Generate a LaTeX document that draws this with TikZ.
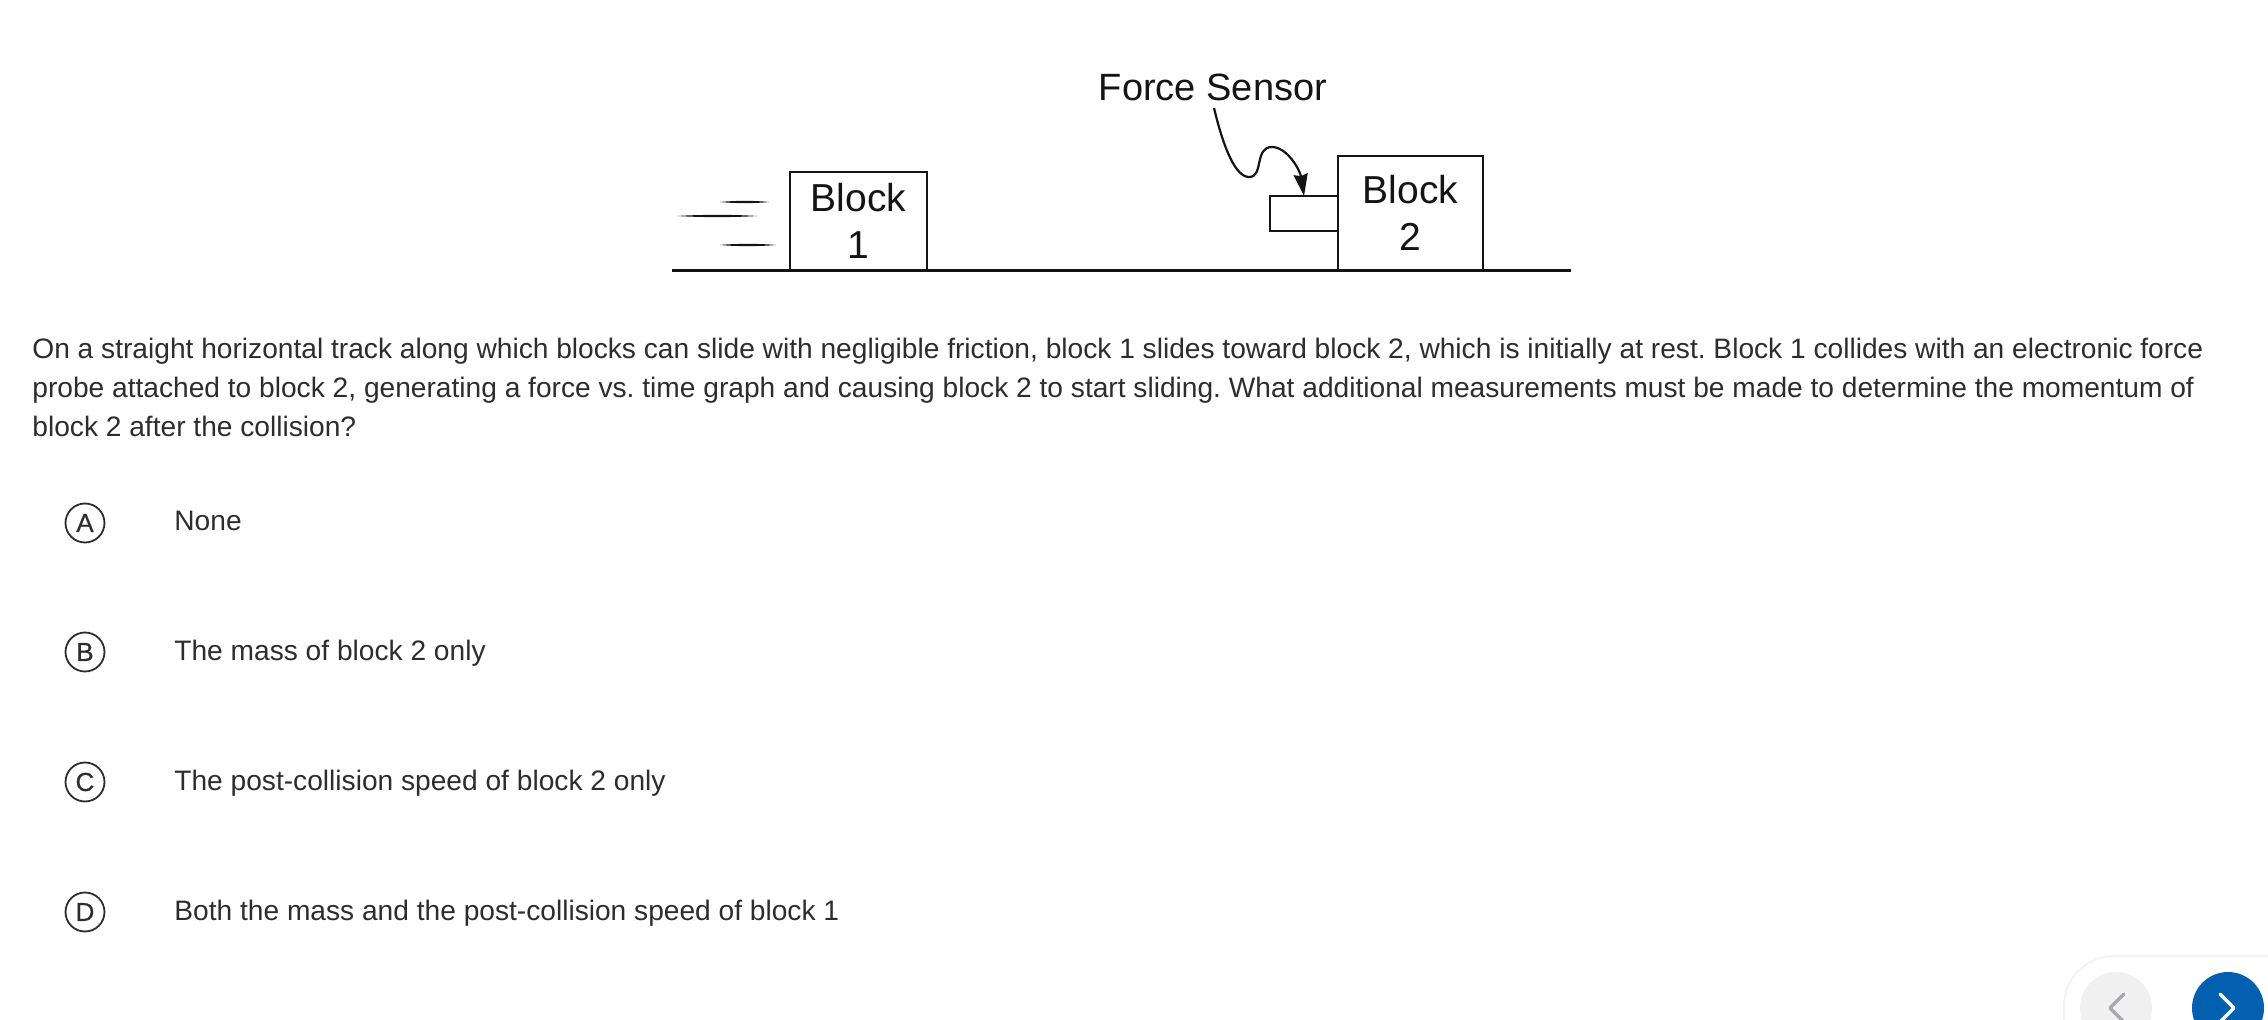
\documentclass[tikz,border=0pt]{standalone}
\usepackage{fontspec}
\setmainfont{Liberation Sans}
\newfontfamily\optfont[FakeBold=0.5]{Liberation Sans}
\usetikzlibrary{arrows.meta}
\definecolor{InkBlack}{RGB}{20, 20, 20}
\definecolor{BodyGrey}{RGB}{45, 45, 45}
\definecolor{PanelEdge}{RGB}{243, 243, 243}
\definecolor{ButtonGrey}{RGB}{240, 240, 240}
\definecolor{ChevronGrey}{RGB}{168, 168, 172}
\definecolor{ButtonBlue}{RGB}{3, 96, 176}
\tikzset{
    blockbox/.style={draw=InkBlack, line width=1.4pt, inner sep=0pt, outer sep=0pt, align=center,
        text depth=1pt, font=\fontsize{19.5}{23.5}\selectfont, text=InkBlack},
    bodyline/.style={anchor=base west, inner sep=0pt, text=BodyGrey, font=\fontsize{14.07}{16}\selectfont},
    optcircle/.style={draw=BodyGrey, circle, line width=0.9pt, minimum size=19.5pt, inner sep=0pt,
        text=BodyGrey, font=\optfont\fontsize{13}{15}\selectfont},
    chevron/.style={line width=1.7pt, line cap=round, line join=round}
}

\begin{document}
\frenchspacing
\begin{tikzpicture}[x=0.5pt, y=-0.5pt]
    \useasboundingbox (0,0) rectangle (2268,1020);
    \clip (0,0) rectangle (2268,1020);
    \fill[white] (0,0) rectangle (2268,1020);

    % Pista
    \draw[InkBlack, line width=1.5pt] (672,271) -- (1571,271);

    % Bloque 1
    \node[blockbox, minimum width=68.5pt, minimum height=49.5pt] (blockOne) at (858.5,221.5) {Block\\1};
    \fill[InkBlack] (720,202) .. controls (735,200.5) and (755,200.5) .. (769,202) .. controls (755,203.5) and (735,203.5) .. (720,202);
    \fill[InkBlack] (677,216) .. controls (700,214.5) and (735,214.5) .. (757,216) .. controls (735,217.5) and (700,217.5) .. (677,216);
    \fill[InkBlack] (720,245) .. controls (735,243.5) and (760,243.5) .. (776,245) .. controls (760,246.5) and (735,246.5) .. (720,245);

    % Bloque 2 y sensor
    \node[blockbox, minimum width=72.5pt, minimum height=57.5pt] (blockTwo) at (1410.5,213.5) {Block\\2};
    \node[blockbox, minimum width=34pt, minimum height=17.5pt] (sensorProbe) at (1304,213.5) {};
    \node[inner sep=0pt, text=InkBlack, font=\fontsize{19}{23}\selectfont] (sensorLabel) at (1213,87) {Force Sensor};
    \coordinate (sensorStart) at (1214,108);
    \draw[InkBlack, line width=1.1pt, -{Stealth[length=11pt, width=7pt, inset=1pt]}] (sensorStart)
        .. controls (1224,150) and (1236,177) .. (1249,177)
        .. controls (1264,177) and (1254,147) .. (1272,147)
        .. controls (1287,147) and (1300,170) .. (sensorProbe.north);

    % Enunciado
    \node[bodyline] (lineOne) at (32,359) {On a straight horizontal track along which blocks can slide with negligible friction, block 1 slides toward block 2, which is initially at rest. Block 1 collides with an electronic force};
    \node[bodyline] (lineTwo) at (32,398) {probe attached to block 2, generating a force vs. time graph and causing block 2 to start sliding. What additional measurements must be made to determine the momentum of};
    \node[bodyline] (lineThree) at (32,437) {block 2 after the collision?};

    % Opciones
    \node[optcircle] (optA) at (85,523) {A};
    \node[bodyline] (textA) at (174,531) {None};
    \node[optcircle] (optB) at (85,652) {B};
    \node[bodyline] (textB) at (174,661) {The mass of block 2 only};
    \node[optcircle] (optC) at (85,782) {C};
    \node[bodyline] (textC) at (174,790) {The post-collision speed of block 2 only};
    \node[optcircle] (optD) at (85,912) {D};
    \node[bodyline] (textD) at (174,920) {Both the mass and the post-collision speed of block 1};

    % Botones
    \draw[PanelEdge, fill=white, line width=1pt] (2064,1040) -- (2064,1006) arc (180:270:50) -- (2290,956) -- (2290,1040) -- cycle;
    \fill[ButtonGrey] (2116,1008) circle (36);
    \fill[ButtonBlue] (2228,1008) circle (36);
    \draw[ChevronGrey, chevron] (2124,994) -- (2110,1008) -- (2124,1022);
    \draw[white, chevron] (2220,994) -- (2234,1008) -- (2220,1022);
\end{tikzpicture}
\end{document}
